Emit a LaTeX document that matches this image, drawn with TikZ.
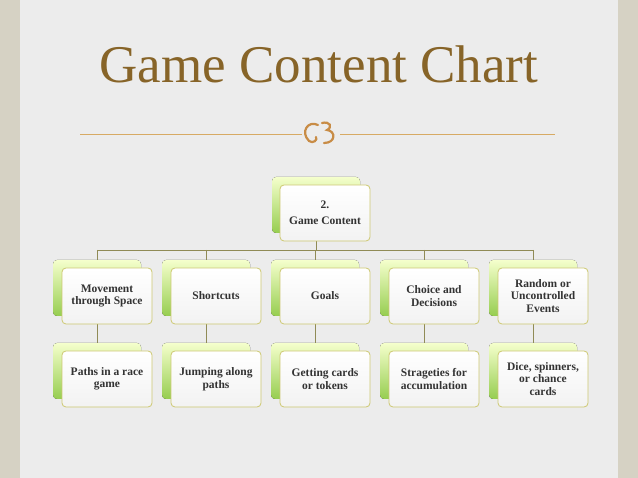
\documentclass[tikz,border=0pt]{standalone}
\usepackage{fontspec}
\setmainfont{Liberation Serif}
\begin{document}
\begin{tikzpicture}[x=1pt,y=-1pt,
  back/.style={rounded corners=4pt,top color=green!20!yellow!20!white,bottom color={rgb,255:red,150;green,205;blue,80},draw=none},
  front/.style={rounded corners=4pt,draw=olive!45!white,top color=white,bottom color=gray!10,line width=0.8pt,minimum width=90pt,minimum height=56pt,align=center,font=\bfseries\fontsize{11.5}{12.5}\selectfont,text=black!80},
  conn/.style={draw=gray!60!olive,line width=0.8pt}]
\useasboundingbox (0,0) rectangle (638,478);
\fill[color={rgb,255:red,214;green,210;blue,196}] (0,0) rectangle (638,478);
\fill[color={rgb,255:red,236;green,236;blue,236}] (20,0) rectangle (618,478);
\node[font=\fontsize{53}{56}\selectfont,text={rgb,255:red,135;green,100;blue,40}] (title) at (319,64) {Game Content Chart};
\coordinate (l1) at (80,134); \coordinate (l2) at (555,134);
\draw[color={rgb,255:red,215;green,170;blue,100},line width=0.8pt] (l1) -- (l2);
\fill[color={rgb,255:red,236;green,236;blue,236}] (302,120) rectangle (340,146);
\draw[color={rgb,255:red,200;green,140;blue,70},line width=2.2pt,line cap=round]
  (318,125) .. controls (308,120) and (300,132) .. (309,141) .. controls (313,144) and (318,140) .. (316,137)
  (322,123) .. controls (330,121) and (333,127) .. (327,130) .. controls (336,131) and (336,143) .. (324,143);
% connectors first
\coordinate (tb) at (316,233);
\draw[conn] (tb) -- (316,250);
\draw[conn] (97,250) -- (534,250);
\foreach \i in {1,...,5}{
  \pgfmathsetmacro{\cx}{107+109*(\i-1)}
  \draw[conn] (\cx-10,250) -- (\cx-10,260);
  \draw[conn] (\cx-10,316) -- (\cx-10,343);
}
% top
\fill[back] (272,177) rectangle (360,233);
\node[front] (top) at (325,213) {2.\\[3pt]Game Content};
\foreach \i/\a/\b in {1/{Movement\\through Space}/{Paths in a race\\game},
  2/Shortcuts/{Jumping along\\paths},
  3/Goals/{Getting cards\\or tokens},
  4/{Choice and\\Decisions}/{Strageties for\\accumulation},
  5/{Random or\\Uncontrolled\\Events}/{Dice, spinners,\\or chance\\cards}}{
  \pgfmathsetmacro{\cx}{107+109*(\i-1)}
  \fill[back] (\cx-54,260) rectangle (\cx+34,316);
  \fill[back] (\cx-54,343) rectangle (\cx+34,399);
  \node[front] (a\i) at (\cx,296) {\a};
  \node[front] (b\i) at (\cx,379) {\b};
}
\end{tikzpicture}
\end{document}
